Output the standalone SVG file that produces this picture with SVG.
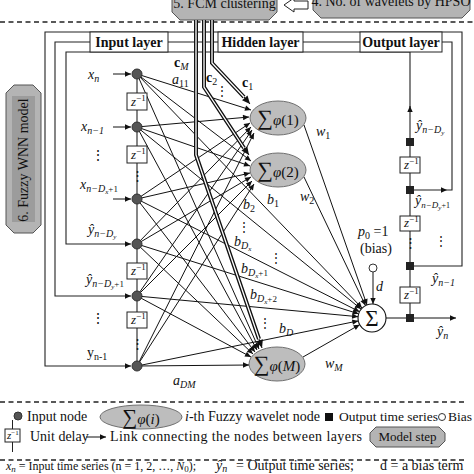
<svg xmlns="http://www.w3.org/2000/svg" width="474" height="474" viewBox="0 0 474 474">
<style>
text{font-family:"Liberation Serif","DejaVu Serif",serif;fill:#111}
.t{font-size:14px}
.it{font-style:italic}
.b{font-weight:bold}
.ln{stroke:#111;stroke-width:1;fill:none}
.fb{stroke:#222;stroke-width:1.1;fill:none}
.dash{stroke:#222;stroke-width:1.5;stroke-dasharray:5,3.5;fill:none}
.zb{fill:#fff;stroke:#222;stroke-width:1}
.inode{fill:#555;stroke:#333;stroke-width:1}
.hn{fill:#bdbdbd;stroke:#707070;stroke-width:1}
.sq{fill:#222}
.step{fill:#b4b4b4;stroke:#555;stroke-width:1}
</style>
<defs>
<marker id="ah" viewBox="0 0 10 10" refX="10" refY="5" markerWidth="7" markerHeight="6" orient="auto" markerUnits="userSpaceOnUse"><path d="M0,0.5 L10,5 L0,9.5 z" fill="#111"/></marker>
<marker id="ahb" viewBox="0 0 10 10" refX="10" refY="5" markerWidth="10" markerHeight="8" orient="auto" markerUnits="userSpaceOnUse"><path d="M0,0.5 L10,5 L0,9.5 z" fill="#111"/></marker>
</defs>

<!-- top model steps -->
<g id="step5">
<path class="step" d="M172,-5 H277 V12 L269,20 H180 L172,12 Z"/>
<text x="224.5" y="8" class="t" text-anchor="middle" font-size="16">5. FCM clustering</text>
</g>
<g id="arrow54">
<path d="M308,1 H294 V-2 L284,5 L294,12 V9 H308 Z" fill="#fff" stroke="#222" stroke-width="1"/>
</g>
<g id="step4">
<path class="step" d="M313,-5 H470 V10 L462,18 H321 L313,10 Z"/>
<text x="391" y="6" class="t" text-anchor="middle" font-size="16">4. No. of wavelets by HPSO</text>
</g>
<line class="dash" x1="0" y1="22" x2="474" y2="22"/>

<!-- left model step -->
<g id="step6">
<path class="step" d="M14,85 H33 L41,93 V225 L33,233 H14 L6,225 V93 Z"/>
<rect x="12" y="96" width="23" height="126" fill="#9c9c9c"/>
<text transform="translate(28,160) rotate(-90)" class="t" text-anchor="middle">6. Fuzzy WNN model</text>
</g>

<!-- feedback loops / frame -->
<g id="feedback">
<path class="fb" d="M410,266 H462 V32 H45 V366 H131" marker-end="url(#ah)"/>
<path class="fb" d="M414,190 H447" marker-end="url(#ah)"/>
<path class="fb" d="M447,190 H452 V42 H55 V296 H131" marker-end="url(#ah)"/>
<path class="fb" d="M410,142 V106" marker-end="url(#ah)"/>
<path class="fb" d="M410,108 V52 H66 V244 H131" marker-end="url(#ah)"/>
<line class="fb" x1="410" y1="142" x2="410" y2="318"/>
<line class="fb" x1="137" y1="74" x2="137" y2="366"/>
</g>

<!-- layer headers -->
<g id="hdr-input"><rect x="90" y="32" width="78" height="20" fill="#fff" stroke="#222"/><text x="129" y="47" class="t b" text-anchor="middle">Input layer</text></g>
<g id="hdr-hidden"><rect x="218" y="32" width="85" height="20" fill="#fff" stroke="#222"/><text x="260.5" y="47" class="t b" text-anchor="middle">Hidden layer</text></g>
<g id="hdr-output"><rect x="360" y="32" width="82" height="20" fill="#fff" stroke="#222"/><text x="401" y="47" class="t b" text-anchor="middle">Output layer</text></g>

<!-- hidden nodes -->
<g id="h1"><ellipse class="hn" cx="278" cy="118" rx="28" ry="17"/><text x="278" y="125" text-anchor="middle"><tspan font-size="22">∑</tspan><tspan font-size="15" class="it">φ</tspan><tspan font-size="15">(1)</tspan></text></g>
<g id="h2"><ellipse class="hn" cx="278" cy="170" rx="28" ry="17"/><text x="278" y="177" text-anchor="middle"><tspan font-size="22">∑</tspan><tspan font-size="15" class="it">φ</tspan><tspan font-size="15">(2)</tspan></text></g>
<g id="hM"><ellipse class="hn" cx="277" cy="364" rx="28" ry="17"/><text x="277" y="371" text-anchor="middle"><tspan font-size="22">∑</tspan><tspan font-size="15" class="it">φ</tspan><tspan font-size="15">(</tspan><tspan font-size="15" class="it">M</tspan><tspan font-size="15">)</tspan></text></g>

<!-- connectors -->
<g id="connectors">
<path class="ln" d="M113,74 H131" marker-end="url(#ah)"/>
<path class="ln" d="M113,127 H131" marker-end="url(#ah)"/>
<path class="ln" d="M113,199 H131" marker-end="url(#ah)"/>
<path class="ln" d="M137,74 L251,110" marker-end="url(#ah)"/>
<path class="ln" d="M137,127 L249,117" marker-end="url(#ah)"/>
<path class="ln" d="M137,199 L250,123" marker-end="url(#ah)"/>
<path class="ln" d="M137,244 L251,127" marker-end="url(#ah)"/>
<path class="ln" d="M137,296 L252,130" marker-end="url(#ah)"/>
<path class="ln" d="M137,366 L254,133" marker-end="url(#ah)"/>
<path class="ln" d="M137,74 L251,161" marker-end="url(#ah)"/>
<path class="ln" d="M137,127 L250,166" marker-end="url(#ah)"/>
<path class="ln" d="M137,199 L250,173" marker-end="url(#ah)"/>
<path class="ln" d="M137,244 L251,177" marker-end="url(#ah)"/>
<path class="ln" d="M137,296 L252,181" marker-end="url(#ah)"/>
<path class="ln" d="M137,366 L254,184" marker-end="url(#ah)"/>
<path class="ln" d="M137,74 L259,349" marker-end="url(#ah)"/>
<path class="ln" d="M137,127 L257,350" marker-end="url(#ah)"/>
<path class="ln" d="M137,199 L255,352" marker-end="url(#ah)"/>
<path class="ln" d="M137,244 L253,354" marker-end="url(#ah)"/>
<path class="ln" d="M137,296 L251,357" marker-end="url(#ah)"/>
<path class="ln" d="M137,366 L249,365" marker-end="url(#ah)"/>
<path class="ln" d="M137,74 L362,308" marker-end="url(#ah)"/>
<path class="ln" d="M137,127 L361,309" marker-end="url(#ah)"/>
<path class="ln" d="M137,199 L359.5,311.7" marker-end="url(#ah)"/>
<path class="ln" d="M137,244 L358.6,313.8" marker-end="url(#ah)"/>
<path class="ln" d="M137,296 L358.1,316.7" marker-end="url(#ah)"/>
<path class="ln" d="M137,366 L358.3,320.9" marker-end="url(#ah)"/>
<path class="ln" d="M304,125 L367,305" marker-end="url(#ah)"/>
<path class="ln" d="M304,177 L365.5,305.6" marker-end="url(#ah)"/>
<path class="ln" d="M303,357 L359.7,324.7" marker-end="url(#ah)"/>
<path class="ln" d="M373,272 V304" marker-end="url(#ah)"/>
<line class="ln" x1="386" y1="318" x2="410" y2="318"/>
<path class="ln" d="M410,318 H456" marker-end="url(#ah)"/>
<path d="M196,20 V155 L259,339" stroke="#111" stroke-width="4" fill="none"/>
<path d="M196,20 V155 L259,339" stroke="#fff" stroke-width="1.3" fill="none"/>
<path d="M259,339 L262,348" stroke="#111" stroke-width="1" fill="none" marker-end="url(#ahb)"/>
<path d="M204,20 V87 L244,148" stroke="#111" stroke-width="4" fill="none"/>
<path d="M204,20 V87 L244,148" stroke="#fff" stroke-width="1.3" fill="none"/>
<path d="M244,148 L249,155" stroke="#111" stroke-width="1" fill="none" marker-end="url(#ahb)"/>
<path d="M212,20 V63 L244,97" stroke="#111" stroke-width="4" fill="none"/>
<path d="M212,20 V63 L244,97" stroke="#fff" stroke-width="1.3" fill="none"/>
<path d="M244,97 L250,104" stroke="#111" stroke-width="1" fill="none" marker-end="url(#ahb)"/>
</g>

<!-- input nodes -->
<g id="in-xn"><circle class="inode" cx="137" cy="74" r="5"/></g>
<g id="in-xn1"><circle class="inode" cx="137" cy="127" r="5"/></g>
<g id="in-xnd"><circle class="inode" cx="137" cy="199" r="5"/></g>
<g id="in-yd"><circle class="inode" cx="137" cy="244" r="5"/></g>
<g id="in-yd1"><circle class="inode" cx="137" cy="296" r="5"/></g>
<g id="in-yn1"><circle class="inode" cx="137" cy="366" r="5"/></g>

<!-- input delays -->
<g id="zin1"><rect class="zb" x="127" y="93" width="20" height="17"/><text x="131" y="106" font-size="13"><tspan class="it">z</tspan><tspan dy="-5" font-size="9">−1</tspan></text></g>
<g id="zin2"><rect class="zb" x="127" y="146" width="20" height="17"/><text x="131" y="159" font-size="13"><tspan class="it">z</tspan><tspan dy="-5" font-size="9">−1</tspan></text></g>
<g id="zin3"><rect class="zb" x="127" y="263" width="20" height="16"/><text x="131" y="275" font-size="13"><tspan class="it">z</tspan><tspan dy="-5" font-size="9">−1</tspan></text></g>
<g id="zin4"><rect class="zb" x="127" y="312" width="20" height="16"/><text x="131" y="324" font-size="13"><tspan class="it">z</tspan><tspan dy="-5" font-size="9">−1</tspan></text></g>
<text x="137" y="180" text-anchor="middle" font-size="13">⋮</text>
<text x="137" y="348" text-anchor="middle" font-size="13">⋮</text>

<!-- output nodes -->
<g id="out1"><rect class="sq" x="406" y="138" width="8" height="8"/></g>
<g id="out2"><rect class="sq" x="406" y="186" width="8" height="8"/></g>
<g id="out3"><rect class="sq" x="406" y="262" width="8" height="8"/></g>
<g id="out4"><rect class="sq" x="406" y="314" width="8" height="8"/></g>
<g id="zout1"><rect class="zb" x="400" y="157" width="20" height="16"/><text x="404" y="169" font-size="13"><tspan class="it">z</tspan><tspan dy="-5" font-size="9">−1</tspan></text></g>
<g id="zout2"><rect class="zb" x="400" y="216" width="20" height="15"/><text x="404" y="227" font-size="13"><tspan class="it">z</tspan><tspan dy="-5" font-size="9">−1</tspan></text></g>
<g id="zout3"><rect class="zb" x="400" y="287" width="20" height="16"/><text x="404" y="299" font-size="13"><tspan class="it">z</tspan><tspan dy="-5" font-size="9">−1</tspan></text></g>
<text x="410" y="247" text-anchor="middle" font-size="13" fill="#111">⋮</text>

<!-- output sum node and bias -->
<g id="sum"><circle cx="372" cy="318" r="14" fill="#fff" stroke="#111" stroke-width="1.1"/><text x="372" y="326" text-anchor="middle" font-size="23">Σ</text></g>
<g id="bias"><circle cx="373" cy="268" r="4" fill="#fff" stroke="#333"/></g>

<!-- labels -->
<g id="labels" font-size="14">
<text x="88" y="79" class="it">x<tspan dy="3" font-size="10">n</tspan></text>
<text x="81" y="131" class="it">x<tspan dy="3" font-size="10">n−1</tspan></text>
<text x="98" y="160" text-anchor="middle">⋮</text>
<text x="80" y="189" class="it">x<tspan dy="3" font-size="10">n−D</tspan><tspan dy="2" font-size="7">x</tspan><tspan dy="-2" font-size="9" font-style="normal">+1</tspan></text>
<text x="88" y="234" class="it">ŷ<tspan dy="3" font-size="10">n−D</tspan><tspan dy="2" font-size="7">y</tspan></text>
<text x="86" y="284" class="it">ŷ<tspan dy="3" font-size="10">n−D</tspan><tspan dy="2" font-size="7">y</tspan><tspan dy="-2" font-size="9" font-style="normal">+1</tspan></text>
<text x="98" y="323" text-anchor="middle">⋮</text>
<text x="87" y="357">y<tspan dy="3" font-size="10">n-1</tspan></text>

<text x="174" y="67" class="b">c<tspan dy="3" font-size="10" class="it" font-weight="normal">M</tspan></text>
<text x="172" y="84" class="it">a<tspan dy="3" font-size="10" font-style="normal">11</tspan></text>
<text x="206" y="82" class="b">c<tspan dy="3" font-size="10" font-weight="normal">2</tspan></text>
<text x="222" y="95" text-anchor="middle" font-size="12">⋮</text>
<text x="242" y="87" class="b">c<tspan dy="3" font-size="10" font-weight="normal">1</tspan></text>

<text x="316" y="136" class="it">w<tspan dy="3" font-size="10" font-style="normal">1</tspan></text>
<text x="300" y="201" class="it">w<tspan dy="3" font-size="10" font-style="normal">2</tspan></text>
<text x="325" y="368" class="it">w<tspan dy="3" font-size="10">M</tspan></text>

<text x="267" y="204" class="it">b<tspan dy="3" font-size="10" font-style="normal">1</tspan></text>
<text x="243" y="209" class="it">b<tspan dy="3" font-size="10" font-style="normal">2</tspan></text>
<text x="244" y="231" text-anchor="middle" font-size="12">⋮</text>
<text x="234" y="246" class="it">b<tspan dy="3" font-size="10">D</tspan><tspan dy="2" font-size="7">x</tspan></text>
<text x="276" y="262" text-anchor="middle" font-size="12">⋮</text>
<text x="241" y="273" class="it">b<tspan dy="3" font-size="10">D</tspan><tspan dy="2" font-size="7">x</tspan><tspan dy="-2" font-size="9" font-style="normal">+1</tspan></text>
<text x="250" y="299" class="it">b<tspan dy="3" font-size="10">D</tspan><tspan dy="2" font-size="7">x</tspan><tspan dy="-2" font-size="9" font-style="normal">+2</tspan></text>
<text x="265" y="327" text-anchor="middle" font-size="12">⋮</text>
<text x="279" y="333" class="it">b<tspan dy="3" font-size="10">D</tspan></text>
<text x="173" y="385" class="it">a<tspan dy="3" font-size="10">DM</tspan></text>

<text x="358" y="236" class="it">p<tspan dy="3" font-size="10" font-style="normal">0</tspan><tspan dy="-3" font-style="normal"> =1</tspan></text>
<text x="360" y="253">(bias)</text>
<text x="376" y="291" class="it">d</text>

<text x="416" y="130" class="it">ŷ<tspan dy="3" font-size="10">n−D</tspan><tspan dy="2" font-size="7">y</tspan></text>
<text x="415" y="205" class="it">ŷ<tspan dy="3" font-size="9">n−D</tspan><tspan dy="2" font-size="7">y</tspan><tspan dy="-2" font-size="8" font-style="normal">+1</tspan></text>
<text x="441" y="245" text-anchor="middle" font-size="12">⋮</text>
<text x="432" y="283" class="it">ŷ<tspan dy="3" font-size="10">n−1</tspan></text>
<text x="437" y="336" class="it">ŷ<tspan dy="3" font-size="10">n</tspan></text>
</g>

<!-- legend -->
<line class="dash" x1="0" y1="402" x2="464" y2="402"/>
<g id="legend" font-size="14">
<circle cx="18" cy="416" r="4" fill="#555" stroke="#333"/>
<text x="27" y="421">Input node</text>
<ellipse class="hn" cx="141" cy="417" rx="41" ry="12"/>
<text x="141" y="424" text-anchor="middle"><tspan font-size="21">∑</tspan><tspan font-size="15" class="it">φ</tspan><tspan font-size="15">(</tspan><tspan font-size="15" class="it">i</tspan><tspan font-size="15">)</tspan></text>
<text x="185" y="421"><tspan class="it">i</tspan>-th Fuzzy wavelet node</text>
<rect x="325" y="413" width="8" height="8" fill="#111"/>
<text x="339" y="421" font-size="13.5">Output time series</text>
<circle cx="442" cy="417" r="3.5" fill="#fff" stroke="#333"/>
<text x="448" y="421" font-size="13.5">Bias</text>
<line x1="12.5" y1="420" x2="12.5" y2="452" stroke="#222"/>
<rect class="zb" x="5" y="429" width="15" height="13"/>
<text x="7" y="439" font-size="11"><tspan class="it">z</tspan><tspan dy="-4" font-size="7">−1</tspan></text>
<text x="30" y="441">Unit delay</text>
<path class="ln" d="M86,437 H106" marker-end="url(#ah)"/>
<text x="110" y="441" textLength="252" lengthAdjust="spacing">Link connecting the nodes between layers</text>
<path class="step" d="M376,427 H439 L445,433 V441 L439,447 H376 L370,441 V433 Z"/>
<text x="407.5" y="441" text-anchor="middle" font-size="13" fill="#333">Model step</text>
</g>
<line class="dash" x1="0" y1="460" x2="464" y2="460"/>
<g id="notes" font-size="14">
<text x="6" y="470" font-size="12"><tspan class="it">x</tspan><tspan dy="2" font-size="9" class="it">n</tspan><tspan dy="-2"> = Input time series (n = 1, 2, …, </tspan><tspan class="it">N</tspan><tspan dy="2" font-size="9">0</tspan><tspan dy="-2">);</tspan></text>
<text x="216" y="470"><tspan class="it">ŷ</tspan><tspan dy="2" font-size="10" class="it">n</tspan></text>
<text x="236" y="470">= Output time series;</text>
<text x="380" y="470">d = a bias term</text>
</g>
</svg>
